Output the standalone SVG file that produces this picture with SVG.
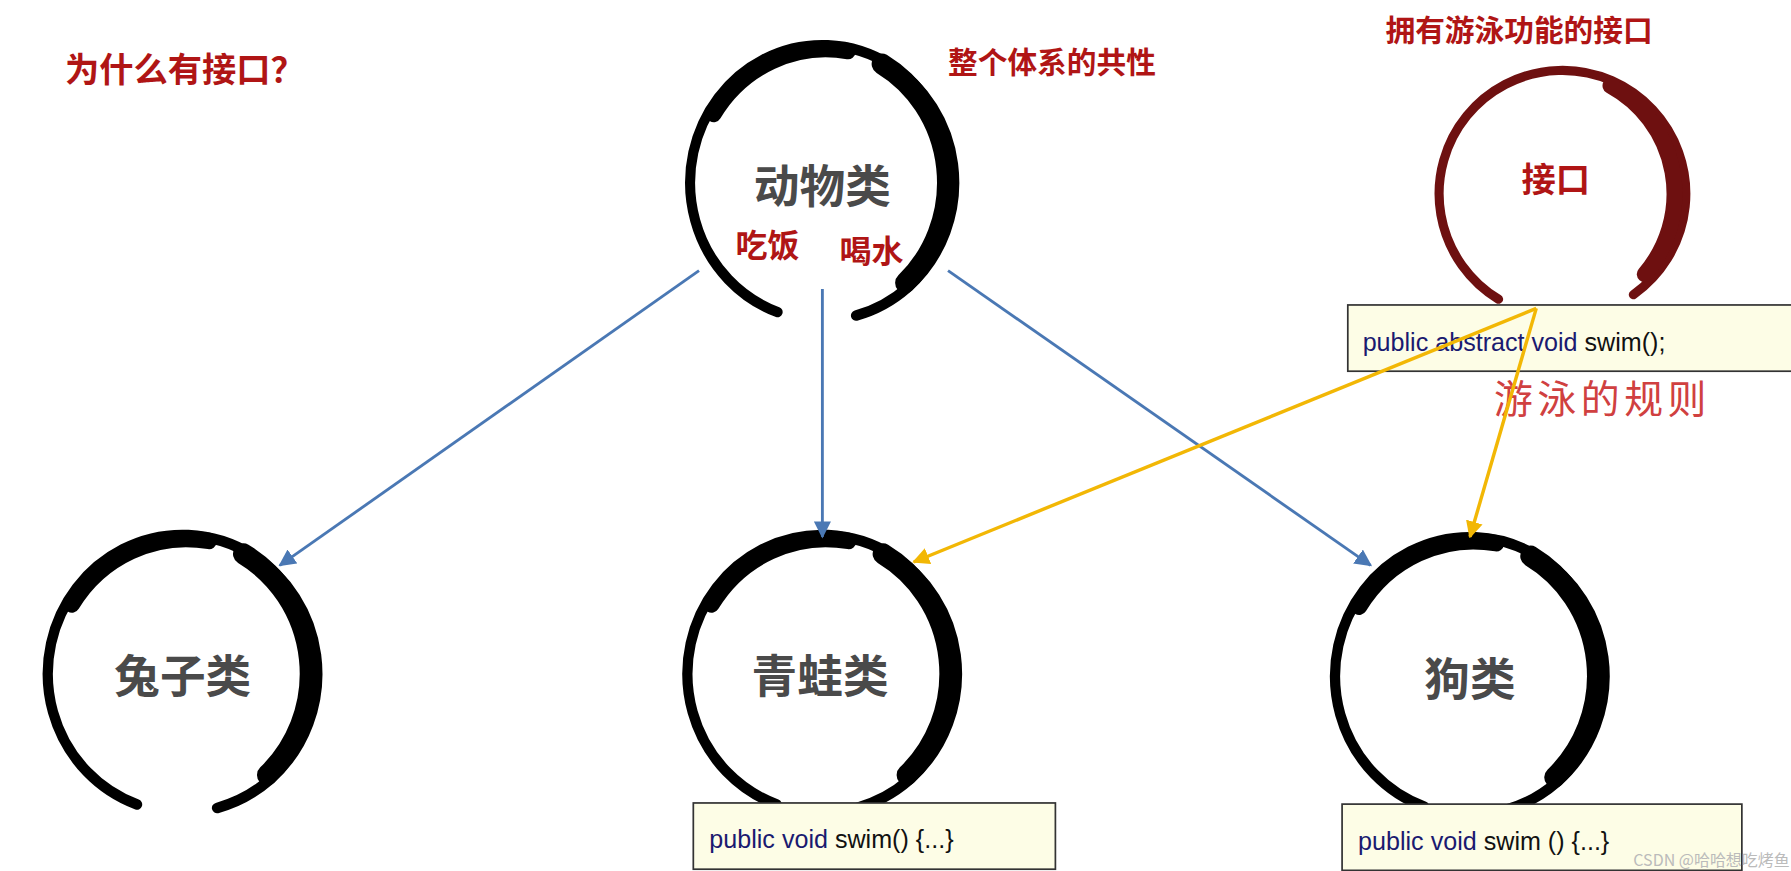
<svg xmlns="http://www.w3.org/2000/svg" width="1791" height="871" viewBox="0 0 1791 871">
<defs>
<style>
.red{font-family:"Noto Sans CJK SC","Liberation Sans",sans-serif;font-weight:bold;fill:#b01515}
.node{font-family:"Noto Sans CJK SC","Liberation Sans",sans-serif;font-weight:bold;fill:#4a4a4a;font-size:40px;text-anchor:middle}
.code{font-family:"Liberation Sans","Noto Sans",sans-serif;font-size:22px;fill:#111}
.kw{fill:#1a1a70}
.box{fill:#fdfde6;stroke:#333;stroke-width:1.5}
.blue{stroke:#4a78b4;stroke-width:2.5;fill:none}
.yel{stroke:#f2b705;stroke-width:3;fill:none}
</style>
<g id="enso">
<path d="M-40,111 A118,118 0 1 1 30,114" fill="none" stroke="#000" stroke-width="9" stroke-linecap="round"/>
<path d="M59,-102 A118,118 0 0 1 80,86" fill="none" stroke="#000" stroke-width="18" stroke-linecap="round" transform="translate(-6,0)"/>
<path d="M-100,-62 A118,118 0 0 1 20,-116" fill="none" stroke="#000" stroke-width="14" stroke-linecap="round" transform="translate(3,3)"/>
</g>
<marker id="ab" viewBox="0 0 10 10" refX="9" refY="5" markerWidth="6" markerHeight="6" orient="auto"><path d="M0,0 L10,5 L0,10 z" fill="#4a78b4"/></marker>
<marker id="ay" viewBox="0 0 10 10" refX="9" refY="5" markerWidth="5" markerHeight="5" orient="auto"><path d="M0,0 L10,5 L0,10 z" fill="#f2b705"/></marker>
</defs>
<rect width="1791" height="871" fill="#fff"/>
<g transform="scale(1.1422)">
<text class="red" x="57" y="72" font-size="30" fill="#a83232">为什么有接口？</text>
<text class="red" x="830" y="64" font-size="26">整个体系的共性</text>
<text class="red" x="1213" y="36" font-size="26">拥有游泳功能的接口</text>

<g id="animal">
<use href="#enso" transform="translate(720,160) scale(0.98,1.02)"/>
<text class="node" x="720" y="178">动物类</text>
<text class="red" x="672" y="225" font-size="28" text-anchor="middle">吃饭</text>
<text class="red" x="763" y="230" font-size="28" text-anchor="middle">喝水</text>
</g>

<g id="interface">
<path d="M1312,262 A108,108 0 1 1 1430,258" fill="none" stroke="#6e1010" stroke-width="8" stroke-linecap="round"/>
<path d="M1410,75 A108,108 0 0 1 1440,240" fill="none" stroke="#6e1010" stroke-width="14" stroke-linecap="round"/>
<text class="red" x="1362" y="168" font-size="30" text-anchor="middle" fill="#b00000">接口</text>
</g>

<g id="abstractbox">
<rect class="box" x="1180" y="267" width="392" height="58"/>
<text class="code" x="1193" y="307"><tspan class="kw">public abstract void</tspan> swim();</text>
</g>
<text x="1308" y="362" font-family="'Noto Sans CJK SC',sans-serif" font-size="34" fill="#d04040" letter-spacing="4">游泳的规则</text>

<g id="rabbit">
<use href="#enso" transform="translate(160,590) scale(1,1.03)"/>
<text class="node" x="160" y="607">兔子类</text>
</g>
<g id="frog">
<use href="#enso" transform="translate(720,590) scale(1,1.03)"/>
<text class="node" x="718" y="607">青蛙类</text>
<rect class="box" x="607" y="703" width="317" height="58"/>
<text class="code" x="621" y="742"><tspan class="kw">public void</tspan> swim() {...}</text>
</g>
<g id="dog">
<use href="#enso" transform="translate(1287,592) scale(1,1.03)"/>
<text class="node" x="1287" y="609">狗类</text>
<rect class="box" x="1175" y="704" width="350" height="58"/>
<text class="code" x="1189" y="744"><tspan class="kw">public void</tspan> swim () {...}</text>
</g>

<g id="connectors">
<line class="blue" x1="612" y1="237" x2="245" y2="495" marker-end="url(#ab)"/>
<line class="blue" x1="720" y1="253" x2="720" y2="470" marker-end="url(#ab)"/>
<line class="blue" x1="830" y1="237" x2="1200" y2="495" marker-end="url(#ab)"/>
<line class="yel" x1="1345" y1="270" x2="800" y2="492" marker-end="url(#ay)"/>
<line class="yel" x1="1345" y1="270" x2="1287" y2="470" marker-end="url(#ay)"/>
</g>
<text x="1430" y="758" font-family="'Noto Sans CJK SC',sans-serif" font-size="14" fill="#bbb">CSDN @哈哈想吃烤鱼</text>
</g>
</svg>
